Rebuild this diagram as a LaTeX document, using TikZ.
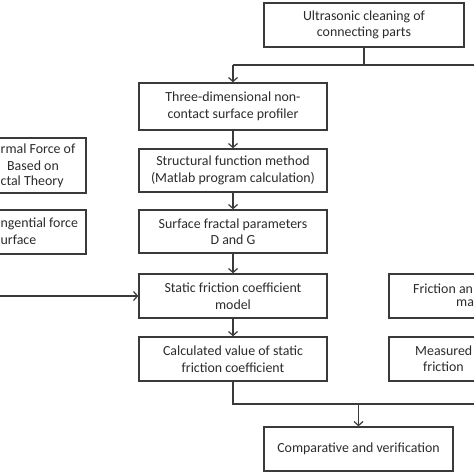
\documentclass[tikz,border=0pt]{standalone}
\usepackage{fontspec}
\setmainfont{Carlito}
\usetikzlibrary{arrows.meta}
\definecolor{ln}{HTML}{3A3A3A}
\definecolor{tx}{HTML}{2B2B2B}
\tikzset{
  box/.style={draw=ln, line width=1.4pt, rectangle, align=center, text=tx, inner sep=0pt,
    font=\fontsize{13.9}{16.5}\selectfont},
  frag/.style={inner sep=0pt, text=tx, font=\fontsize{13.9}{16.5}\selectfont},
  conn/.style={draw=ln, line width=1.3pt},
  arr/.style={conn, -{Straight Barb[length=4pt,width=9pt,line width=1.2pt]}}
}
\begin{document}
\begin{tikzpicture}[x=1pt,y=-1pt]
\useasboundingbox (0,0) rectangle (474,474);
\clip (0,0) rectangle (474,474);
% central column
\node[box, minimum width=200pt, minimum height=44pt] (top) at (364,25) {Ultrasonic cleaning of\\connecting parts};
\node[box, minimum width=188pt, minimum height=47pt] (b2) at (233,106.5) {Three-dimensional non-\\contact surface profiler};
\node[box, minimum width=188pt, minimum height=43pt] (b3) at (233,170.5) {Structural function method\\(Matlab program calculation)};
\node[box, minimum width=188pt, minimum height=43pt] (b4) at (233,231.5) {Surface fractal parameters\\D and G};
\node[box, minimum width=188pt, minimum height=44pt] (b5) at (233,296) {Static friction coefficient\\model};
\node[box, minimum width=188pt, minimum height=44pt] (b6) at (233,359) {Calculated value of static\\friction coefficient};
\node[box, minimum width=189pt, minimum height=44pt] (b7) at (358.5,449) {Comparative and verification};
% left column (cropped)
\node[box, minimum width=188pt, minimum height=55pt] (l1) at (-8,165.5) {};
\node[box, minimum width=188pt, minimum height=44pt] (l2) at (-8,232) {};
\node[frag, anchor=west] (l1a) at (0.5,149) {rmal Force of};
\node[frag] (l1b) at (33,165.5) {Based on};
\node[frag, anchor=west] (l1c) at (0.5,182) {ctal Theory};
\node[frag, anchor=west] (l2a) at (0.5,224) {ngential force};
\node[frag, anchor=west] (l2b) at (0.5,240) {urface};
% right column (cropped)
\node[box, minimum width=188pt, minimum height=44pt] (r1) at (483,296) {};
\node[box, minimum width=188pt, minimum height=44pt] (r2) at (483,359) {};
\node[frag, anchor=west] (r1a) at (413,289) {Friction an};
\node[frag, anchor=west] (r1b) at (456,303.5) {ma};
\node[frag, anchor=west] (r2a) at (415,351) {Measured};
\node[frag, anchor=west] (r2b) at (423,366.5) {friction};
% connectors
\coordinate (tj) at (364,65);
\coordinate (tl) at (233,65);
\coordinate (tr) at (480,65);
\draw[conn] (top.south) -- (tj);
\draw[conn] (tl) -- (tr);
\draw[arr] (tl) -- (b2.north);
\draw[arr] (b2) -- (b3);
\draw[arr] (b3) -- (b4);
\draw[arr] (b4) -- (b5);
\draw[arr] (b5) -- (b6);
\coordinate (lin) at (-2,296);
\draw[arr] (lin) -- (b5.west);
\coordinate (bj) at (233,404);
\coordinate (bm) at (358.5,404);
\coordinate (br) at (480,404);
\draw[conn] (b6.south) -- (bj) -- (br);
\draw[arr] (bm) -- (b7.north);
\end{tikzpicture}
\end{document}
